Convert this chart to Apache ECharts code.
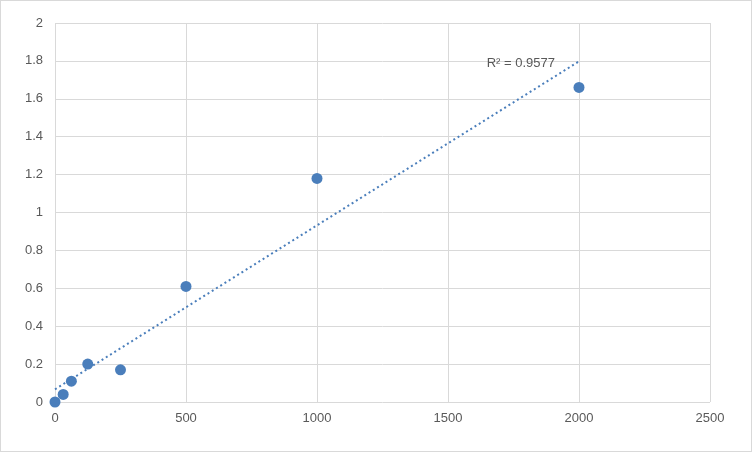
<!DOCTYPE html>
<html>
<head>
<meta charset="utf-8">
<script src="https://cdn.jsdelivr.net/npm/echarts@6/dist/echarts.min.js"></script>
<style>
  html, body { margin: 0; padding: 0; background: #fff; }
  #main { width: 750px; height: 450px; border: 1px solid #d9d9d9; }
</style>
</head>
<body>
<div id="main"></div>
<script>
const chartDom = document.getElementById("main");
const myChart = echarts.init(chartDom);

const xValues = [0, 31.25, 62.5, 125, 250, 500, 1000, 2000];
const yValues = [0, 0.04, 0.11, 0.2, 0.17, 0.61, 1.18, 1.66];
const r2Label = "R² = 0.9577";

// least squares trendline
const n = xValues.length;
const mx = xValues.reduce((a, b) => a + b, 0) / n;
const my = yValues.reduce((a, b) => a + b, 0) / n;
let sxy = 0, sxx = 0;
for (let i = 0; i < n; i++) {
    sxy += (xValues[i] - mx) * (yValues[i] - my);
    sxx += (xValues[i] - mx) * (xValues[i] - mx);
}
const slope = sxy / sxx;
const intercept = my - slope * mx;
const trend = [[0, intercept], [2000, intercept + slope * 2000]];

const textColor = "#595959";

myChart.setOption({
    animation: false,
    grid: { left: 54, right: 41, top: 22, bottom: 49 },
    xAxis: {
        type: "value",
        min: 0,
        max: 2500,
        interval: 500,
        axisLine: { show: false },
        axisTick: { show: false },
        axisLabel: {
            color: textColor, fontSize: 13, fontFamily: "Liberation Sans", margin: 10,
            formatter: (v) => String(v),
        },
        splitLine: { lineStyle: { color: "#d9d9d9" } },
    },
    yAxis: {
        type: "value",
        min: 0,
        max: 2,
        interval: 0.2,
        axisLine: { show: false },
        axisTick: { show: false },
        axisLabel: { color: textColor, fontSize: 13, fontFamily: "Liberation Sans", margin: 12 },
        splitLine: { lineStyle: { color: "#d9d9d9" } },
    },
    series: [
        {
            type: "line",
            data: trend,
            showSymbol: false,
            lineStyle: { color: "#4a7ebb", width: 2, type: [2, 3] },
            markPoint: {
                symbol: "circle",
                symbolSize: 0,
                data: [{ coord: trend[1] }],
                label: {
                    show: true,
                    formatter: r2Label,
                    position: "left",
                    distance: 24,
                    offset: [0, 2],
                    color: textColor,
                    fontSize: 13,
                    fontFamily: "Liberation Sans",
                },
            },
        },
        {
            type: "scatter",
            data: xValues.map((x, i) => [x, yValues[i]]),
            symbolSize: 11,
            itemStyle: { color: "#4a7ebb", opacity: 1 },
        },
    ],
});
</script>
</body>
</html>
